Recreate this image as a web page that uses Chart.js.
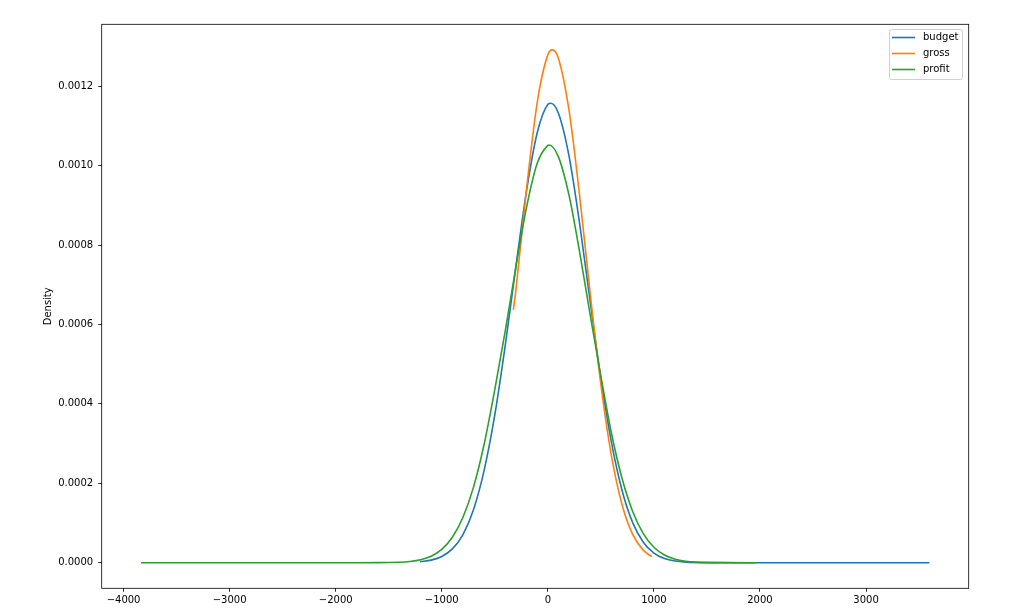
<!DOCTYPE html>
<html>
<head>
<meta charset="utf-8">
<script src="https://cdn.jsdelivr.net/npm/chart.js@4.4.1/dist/chart.umd.min.js"></script>
<style>
  html, body { margin: 0; padding: 0; background: #fff; }
  #wrap { width: 1010px; height: 611px; }
</style>
</head>
<body>
<div id="wrap"><canvas id="kde" width="1010" height="611"></canvas></div>
<script>
// ── Data ──────────────────────────────────────────────────────
const seriesNames = ['budget', 'gross', 'profit'];

const budgetX = [-1205, -1100, -1000, -900, -800, -700, -600, -500, -400, -300, -200, -100, 0, 27,
                 100, 200, 300, 400, 500, 600, 700, 800, 900, 1000, 1100, 1200, 1300, 1500, 2000, 2600, 3000, 3597];
const budgetY = [0.0000024, 0.0000065, 0.0000156, 0.0000347, 0.0000709, 0.000134, 0.000233, 0.000372,
                 0.00055, 0.000748, 0.000938, 0.001083, 0.001154, 0.001157,
                 0.001132, 0.001024, 0.000854, 0.000656, 0.000464, 0.000303, 0.000182, 0.000101,
                 0.0000516, 0.0000243, 0.0000105, 0.0000042, 0.0000015, 0.0000002, 0, 0, 0, 0];

const grossX = [-325, -300, -200, -100, 0, 42, 100, 200, 300, 400, 500, 600, 700, 800, 900, 980];
const grossY = [0.000637, 0.000689, 0.000943, 0.001159, 0.001279, 0.0012915, 0.00127, 0.001139,
                0.000924, 0.000677, 0.000449, 0.000269, 0.000146, 0.0000714, 0.0000316, 0.0000151];

const profitX = [-3835, -3000, -2000, -1600, -1400, -1300, -1200, -1100, -1000, -900, -800, -700, -600,
                 -500, -400, -300, -200, -100, 0, 11, 100, 200, 300, 400, 500, 600, 700, 800, 900,
                 1000, 1100, 1200, 1300, 1400, 1600, 1953];
const profitY = [0, 0, 0, 0.0000001, 0.0000013, 0.0000032, 0.0000075, 0.0000164, 0.0000335, 0.0000641,
                 0.0001145, 0.000191, 0.000299, 0.000436, 0.000586, 0.000746, 0.000896, 0.001006,
                 0.001051, 0.001052, 0.001022, 0.000925, 0.000782, 0.000623, 0.00047, 0.000326,
                 0.000212, 0.000129, 0.0000731, 0.0000388, 0.0000193, 0.0000089, 0.0000038,
                 0.0000015, 0.0000002, 0];

const xTicks = [-4000, -3000, -2000, -1000, 0, 1000, 2000, 3000];
const yTicks = [0, 0.0002, 0.0004, 0.0006, 0.0008, 0.0010, 0.0012];

const colors = ['#1f77b4', '#ff7f0e', '#2ca02c'];
const FONT = 'DejaVu Sans';

// ── Helpers ───────────────────────────────────────────────────
function toPoints(xs, ys) {
  return xs.map((x, i) => ({ x: x, y: ys[i] }));
}

// Frame (all four spines) + legend box like matplotlib
const framePlugin = {
  id: 'frame',
  afterDraw(chart) {
    const { ctx, chartArea: a } = chart;
    ctx.save();
    ctx.strokeStyle = '#000';
    ctx.lineWidth = 0.8;
    ctx.strokeRect(a.left, a.top, a.right - a.left, a.bottom - a.top);

    // legend
    const bx = 889.5, by = 29.5, bw = 73, bh = 50;
    ctx.fillStyle = 'rgba(255,255,255,0.8)';
    ctx.strokeStyle = '#d0d0d0';
    ctx.lineWidth = 1;
    ctx.beginPath();
    ctx.roundRect(bx, by, bw, bh, 2);
    ctx.fill();
    ctx.stroke();

    ctx.font = '10px "' + FONT + '"';
    ctx.textBaseline = 'middle';
    ctx.textAlign = 'left';
    chart.data.datasets.forEach((ds, i) => {
      const y = 37.5 + i * 16;
      ctx.strokeStyle = ds.borderColor;
      ctx.lineWidth = 1.6;
      ctx.beginPath();
      ctx.moveTo(892, y);
      ctx.lineTo(915, y);
      ctx.stroke();
      ctx.fillStyle = '#000';
      ctx.fillText(ds.label, 923, y);
    });
    ctx.restore();
  }
};

// ── Chart ─────────────────────────────────────────────────────
const datasets = [
  { label: seriesNames[0], data: toPoints(budgetX, budgetY), borderColor: colors[0], order: 3 },
  { label: seriesNames[1], data: toPoints(grossX, grossY),   borderColor: colors[1], order: 2 },
  { label: seriesNames[2], data: toPoints(profitX, profitY), borderColor: colors[2], order: 1 }
].map(d => Object.assign(d, {
  borderWidth: 1.6,
  pointRadius: 0,
  fill: false,
  cubicInterpolationMode: 'monotone'
}));

new Chart(document.getElementById('kde'), {
  type: 'line',
  data: { datasets },
  options: {
    responsive: false,
    animation: false,
    devicePixelRatio: 1,
    layout: { padding: { left: 0, top: 24.3, right: 41.3, bottom: 0 } },
    plugins: { legend: { display: false }, tooltip: { enabled: false } },
    scales: {
      x: {
        type: 'linear',
        min: -4206,
        max: 3968,
        afterBuildTicks: s => { s.ticks = xTicks.map(v => ({ value: v })); },
        afterFit: s => { s.height = 611 - 588.3; },
        grid: { drawOnChartArea: false, drawTicks: true, tickLength: 3.5, tickColor: '#000', tickWidth: 0.8 },
        border: { display: false },
        ticks: {
          color: '#000',
          padding: 3,
          maxRotation: 0,
          font: { family: FONT, size: 10 },
          callback: v => (v < 0 ? '\u2212' + Math.abs(v) : String(v))
        }
      },
      y: {
        type: 'linear',
        min: -0.0000645,
        max: 0.001356,
        afterBuildTicks: s => { s.ticks = yTicks.map(v => ({ value: v })); },
        afterFit: s => { s.width = 101.7; },
        grid: { drawOnChartArea: false, drawTicks: true, tickLength: 3.5, tickColor: '#000', tickWidth: 0.8 },
        border: { display: false },
        title: {
          display: true,
          text: 'Density',
          color: '#000',
          font: { family: FONT, size: 10 },
          padding: { top: 42, bottom: 0 }
        },
        ticks: {
          color: '#000',
          padding: 5,
          font: { family: FONT, size: 10 },
          callback: v => Number(v).toFixed(4)
        }
      }
    }
  },
  plugins: [framePlugin]
});
</script>
</body>
</html>
